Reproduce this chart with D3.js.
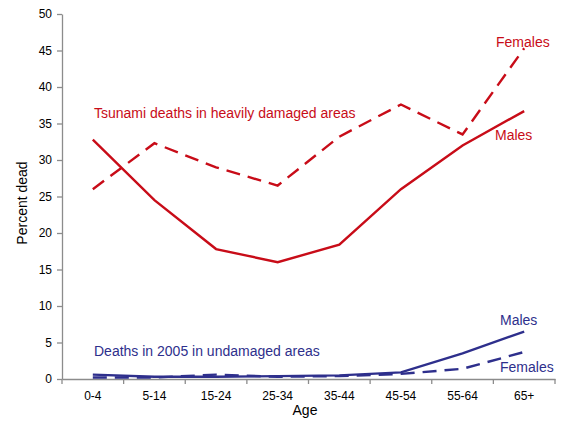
<!DOCTYPE html>
<html>
<head>
<meta charset="utf-8">
<script src="https://cdn.jsdelivr.net/npm/d3@7"></script>
<style>
  body { margin: 0; background: #fff; }
  svg { display: block; font-family: Arial, "Liberation Sans", sans-serif; }
  .axis path, .axis line { stroke: #8c8c8c; stroke-width: 1.3; }
  .axis text { fill: #000; font-size: 12px; }
</style>
</head>
<body>
<svg id="chart" width="564" height="427"></svg>
<script>
// Age groups and percent dead by group
const AGES = ['0-4', '5-14', '15-24', '25-34', '35-44', '45-54', '55-64', '65+'];
const TSUNAMI_MALES   = [32.8, 24.5, 17.8, 16.0, 18.4, 26.0, 32.0, 36.7];
const TSUNAMI_FEMALES = [26.0, 32.3, 29.0, 26.5, 33.2, 37.6, 33.5, 45.3];
const BASE_MALES      = [0.6, 0.3, 0.3, 0.4, 0.5, 0.9, 3.5, 6.5];
const BASE_FEMALES    = [0.2, 0.2, 0.6, 0.3, 0.4, 0.7, 1.4, 3.7];
const Y_TICKS = [0, 5, 10, 15, 20, 25, 30, 35, 40, 45, 50];

const RED = '#c80c18';
const BLUE = '#2e2f8c';

const svg = d3.select('#chart');
const margin = { left: 62, right: 9, top: 14, bottom: 48 };
const width = 564, height = 427;

const x = d3.scaleBand().domain(AGES).range([margin.left, width - margin.right]);
const y = d3.scaleLinear().domain([0, 50]).range([height - margin.bottom, margin.top]);

// Axes
const xAxis = svg.append('g')
  .attr('class', 'axis')
  .attr('transform', `translate(0,${y(0)})`)
  .call(d3.axisBottom(x).tickSize(0).tickPadding(12));
// band-edge ticks like Excel
xAxis.selectAll('.edge')
  .data(d3.range(AGES.length + 1))
  .join('line')
  .attr('class', 'edge')
  .attr('x1', i => margin.left + i * x.step())
  .attr('x2', i => margin.left + i * x.step())
  .attr('y1', 0).attr('y2', 5);

svg.append('g')
  .attr('class', 'axis')
  .attr('transform', `translate(${margin.left},0)`)
  .call(d3.axisLeft(y).tickValues(Y_TICKS).tickSize(5).tickPadding(5).tickSizeOuter(0));

// Axis titles
svg.append('text')
  .attr('x', 305).attr('y', 415)
  .attr('text-anchor', 'middle')
  .attr('font-size', 14)
  .text('Age');

svg.append('text')
  .attr('transform', 'translate(27,203) rotate(-90)')
  .attr('text-anchor', 'middle')
  .attr('font-size', 14)
  .text('Percent dead');

// Lines
const line = d3.line()
  .x((d, i) => x(AGES[i]) + x.bandwidth() / 2)
  .y(d => y(d));

const series = [
  { values: TSUNAMI_MALES, color: RED, dash: null },
  { values: TSUNAMI_FEMALES, color: RED, dash: '14,8' },
  { values: BASE_MALES, color: BLUE, dash: null },
  { values: BASE_FEMALES, color: BLUE, dash: '14,8' },
];

svg.selectAll('.series')
  .data(series)
  .join('path')
  .attr('class', 'series')
  .attr('d', d => line(d.values))
  .attr('fill', 'none')
  .attr('stroke', d => d.color)
  .attr('stroke-width', 2.4)
  .attr('stroke-dasharray', d => d.dash);

// Annotations
const notes = [
  { text: 'Tsunami deaths in heavily damaged areas', x: 94, y: 118, color: RED },
  { text: 'Females', x: 496, y: 47, color: RED },
  { text: 'Males', x: 495, y: 140, color: RED },
  { text: 'Deaths in 2005 in undamaged areas', x: 94, y: 356, color: BLUE },
  { text: 'Males', x: 500, y: 325, color: BLUE },
  { text: 'Females', x: 500, y: 372, color: BLUE },
];

svg.selectAll('.note')
  .data(notes)
  .join('text')
  .attr('class', 'note')
  .attr('x', d => d.x).attr('y', d => d.y)
  .attr('fill', d => d.color)
  .attr('font-size', 14)
  .text(d => d.text);
</script>
</body>
</html>
